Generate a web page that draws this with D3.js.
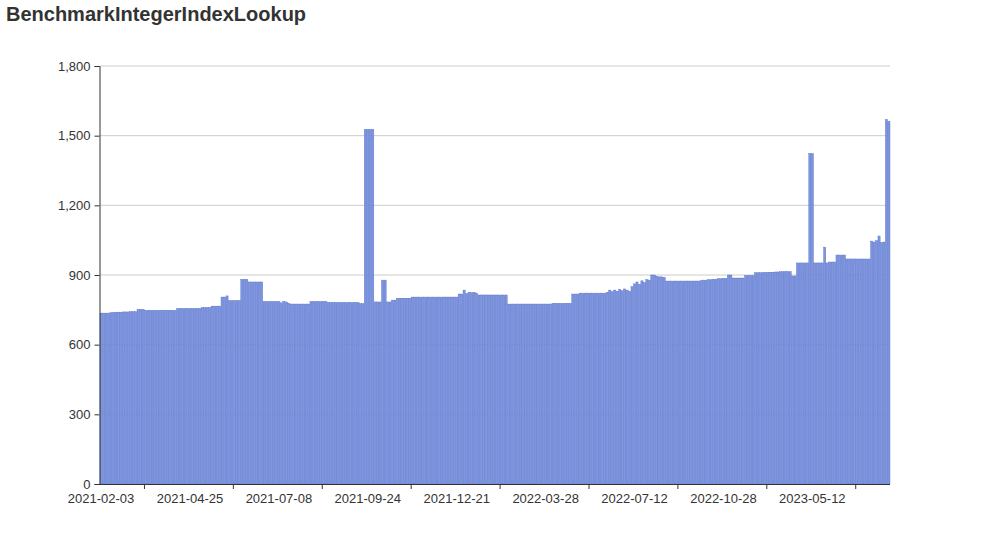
<!DOCTYPE html>
<html>
<head>
<meta charset="utf-8">
<title>BenchmarkIntegerIndexLookup</title>
<script src="https://d3js.org/d3.v7.min.js"></script>
<style>
    body, html { margin: 0; padding: 0; background: #fff; }
    svg { display: block; font-family: "Liberation Sans", Arial, sans-serif; }
    .grid line { stroke: #ccc; }
    .tick text { fill: #333; font-size: 13px; }
</style>
</head>
<body>
<svg></svg>
<script>
    // values, one per run
    const values = [
        736, 736, 736, 736,
        738, 739, 740, 740, 740, 741, 741, 741, 742, 742, 742,
        752, 752, 752,
        748, 748, 748, 748, 748, 748, 748, 748, 748, 748, 748, 748, 748,
        756, 756, 756, 756, 756, 756, 756, 756, 756, 756,
        760, 760, 760, 760,
        766, 766, 766, 766,
        805, 805, 810,
        790, 790, 790, 790, 790,
        881, 881, 881,
        870, 870, 870, 870, 870, 870,
        786, 786, 786, 786, 786, 786, 786,
        780, 786, 784, 778,
        775, 775, 775, 775, 775, 775, 775, 775,
        786, 786, 786, 786, 786, 786, 786,
        782, 782, 782, 782, 782, 782, 782, 782, 782, 782, 782, 782, 782, 777, 777,
        1527, 1527, 1527, 1527,
        784, 784, 784,
        878, 878,
        784, 784,
        792, 792,
        800, 800, 800, 800, 800, 800,
        805, 805, 805, 805, 805, 805, 805, 805, 805, 805, 805, 805, 805, 805, 805, 805, 805, 805, 805,
        818, 818, 835,
        820, 826, 824, 826, 822, 814, 814, 814,
        814, 814, 814, 814, 814, 814, 814, 814, 814,
        775, 775, 775, 775, 775, 775, 775, 775, 775, 775, 775, 775, 775, 775, 775, 775, 775, 775,
        778, 778, 778, 778, 778, 778, 778, 778,
        818, 818, 818,
        822, 822, 822, 822, 822, 822, 822, 822, 822, 822, 822,
        826, 835, 828, 835, 830, 838, 832, 840, 835, 830,
        850, 862, 870, 860, 875, 868, 880, 878,
        900, 900,
        895, 892, 892, 890,
        874, 874, 874, 874, 874, 874, 874, 874, 874, 874, 874, 874, 874, 874,
        876, 878, 878, 880, 880, 882, 882, 884, 884, 886, 886,
        900, 900,
        887, 887, 887, 887, 887,
        898, 898, 898, 898,
        910, 910, 910, 911, 911, 912, 912, 912, 913, 913, 914, 914, 915, 915, 915,
        896, 896,
        952, 952, 952, 952, 952,
        1423, 1423,
        952, 952, 952, 952, 1020, 952,
        956, 956, 956,
        986, 986, 986, 986,
        969, 969, 969, 969, 969, 969, 969, 969, 969, 969,
        1046, 1042, 1048, 1068, 1040, 1042,
        1570, 1562
    ];
    // dates shown under the axis, one every labelEvery bars
    const dateLabels = ["2021-02-03", "2021-04-25", "2021-07-08", "2021-09-24", "2021-12-21",
                        "2022-03-28", "2022-07-12", "2022-10-28", "2023-05-12"];
    const labelEvery = 36;
    const yTicks = [0, 300, 600, 900, 1200, 1500, 1800];

    const width = 990, height = 550;
    const margin = { top: 66, right: 100, bottom: 66, left: 100 };

    const svg = d3.select("svg").attr("width", width).attr("height", height);

    svg.append("text")
        .attr("x", 6).attr("y", 21)
        .attr("font-size", 20).attr("font-weight", "bold").attr("fill", "#333")
        .text("BenchmarkIntegerIndexLookup");

    const idx = d3.range(values.length);
    const x = d3.scaleBand().domain(idx).range([margin.left, width - margin.right]).paddingInner(0.12);
    const y = d3.scaleLinear().domain([0, 1800]).range([height - margin.bottom, margin.top]);

    // grid
    svg.append("g").attr("class", "grid")
        .selectAll("line").data(yTicks.slice(1)).enter().append("line")
        .attr("x1", margin.left).attr("x2", width - margin.right)
        .attr("y1", d => y(d)).attr("y2", d => y(d));

    // bars
    svg.append("g").selectAll("rect").data(values).enter().append("rect")
        .attr("x", (d, i) => x(i))
        .attr("width", x.bandwidth())
        .attr("y", d => y(d))
        .attr("height", d => y(0) - y(d))
        .attr("fill", "#7f95e0")
        .attr("stroke", "#5470c6").attr("stroke-width", 0.4);

    // y axis
    const yAxis = svg.append("g")
        .attr("transform", `translate(${margin.left - 0.5},0)`)
        .call(d3.axisLeft(y).tickValues(yTicks).tickFormat(d3.format(",")).tickSize(5).tickPadding(4));
    yAxis.select(".domain").attr("stroke", "#333");
    yAxis.selectAll(".tick line").attr("stroke", "#333");

    // x axis line
    svg.append("line")
        .attr("x1", margin.left - 1).attr("x2", width - margin.right)
        .attr("y1", y(0) + 0.5).attr("y2", y(0) + 0.5)
        .attr("stroke", "#333");

    // x ticks sit between labels
    const step = x.step();
    const tickIdx = d3.range(labelEvery / 2, values.length, labelEvery);
    svg.append("g").selectAll("line").data(tickIdx).enter().append("line")
        .attr("x1", d => margin.left + d * step).attr("x2", d => margin.left + d * step)
        .attr("y1", y(0)).attr("y2", y(0) + 5)
        .attr("stroke", "#333");

    svg.append("g").selectAll("text").data(dateLabels).enter().append("text")
        .attr("x", (d, i) => x(i * labelEvery) + x.bandwidth() / 2)
        .attr("y", y(0) + 19)
        .attr("text-anchor", "middle")
        .attr("font-size", 13).attr("fill", "#333")
        .text(d => d);
</script>
</body>
</html>
